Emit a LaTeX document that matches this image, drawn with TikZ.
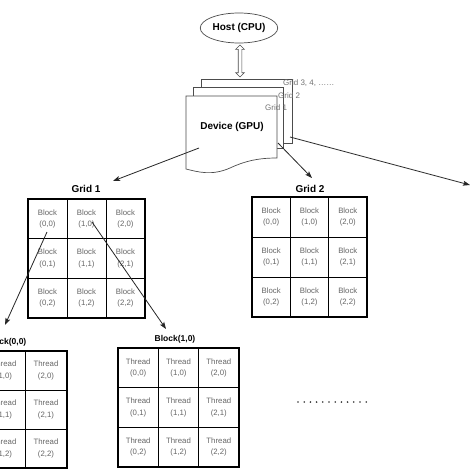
\documentclass[tikz,border=0pt]{standalone}
\usepackage{fontspec}
\setmainfont{Liberation Sans}
\usetikzlibrary{arrows.meta,shapes.geometric,shapes.arrows}
\begin{document}
\begin{tikzpicture}[x=1pt,y=-1pt,
  cell/.style={draw=black, line width=0.7pt, inner sep=0pt, align=center, text=black!60, font=\fontsize{7.8}{11.5}\selectfont},
  gtitle/.style={font=\bfseries\fontsize{10}{12}\selectfont, inner sep=1pt},
  btitle/.style={font=\bfseries\fontsize{8.5}{10}\selectfont, inner sep=1pt},
  outer/.style={draw=black, line width=2.2pt},
  conn/.style={line width=0.8pt, draw=black!85, -{Stealth[length=7pt,width=5pt,inset=1.5pt]}},
  page/.style={draw=black!70, line width=0.7pt, fill=white},
  glabel/.style={text=black!55, font=\fontsize{8}{9}\selectfont, anchor=west, inner sep=0pt}]
\useasboundingbox (0,0) rectangle (474,474);
\clip (0,0) rectangle (474,474);
\fill[white] (0,0) rectangle (474,474);

% Host
\node[ellipse, draw=black!70, line width=0.7pt, minimum width=70pt, minimum height=30pt, gtitle] (host) at (239,28) {Host (CPU)};
\node[draw=black!70, fill=white, double arrow, rotate=90, minimum height=32pt, inner sep=1.5pt, double arrow head extend=2.5pt, line width=0.6pt] (io) at (240,61) {};

% Device pages
\draw[page] (201,79) rectangle (292,143);
\draw[page] (193,87) rectangle (283,148);
\draw[page] (186,96) -- (277,96) -- (277,158)
  .. controls (258,158) and (245,161) .. (230,168)
  .. controls (212,176) and (198,172) .. (186,169) -- cycle;
\node[gtitle] (dev) at (232,127) {Device (GPU)};
\node[glabel] (l3) at (283,83) {Grid 3, 4, ……};
\node[glabel] (l2) at (278,96) {Grid 2};
\node[glabel] (l1) at (265,108) {Grid 1};

% Grid 1
\node[gtitle] (g1t) at (86,189) {Grid 1};
\foreach \i in {0,1,2}{\foreach \j in {0,1,2}{
  \node[cell, minimum width=39pt, minimum height=39.67pt] (ga-\i-\j) at ({28+39*(\i+0.5)},{199+39.67*(\j+0.5)}) {Block\\(\i,\j)};}}
\draw[outer] (28,199) rectangle (145,318);

% Grid 2
\node[gtitle] (g2t) at (310,189) {Grid 2};
\foreach \i in {0,1,2}{\foreach \j in {0,1,2}{
  \node[cell, minimum width=38.33pt, minimum height=40pt] (gb-\i-\j) at ({252+38.33*(\i+0.5)},{197+40*(\j+0.5)}) {Block\\(\i,\j)};}}
\draw[outer] (252,197) rectangle (367,317);

% Block(0,0)
\node[btitle] (b0t) at (6,342) {Block(0,0)};
\foreach \i in {0,1,2}{\foreach \j in {0,1,2}{
  \node[cell, minimum width=42pt, minimum height=39pt] (ba-\i-\j) at ({-59+42*(\i+0.5)},{351+39*(\j+0.5)}) {Thread\\(\i,\j)};}}
\draw[outer] (-59,351) rectangle (67,468);

% Block(1,0)
\node[btitle] (b1t) at (175,339) {Block(1,0)};
\foreach \i in {0,1,2}{\foreach \j in {0,1,2}{
  \node[cell, minimum width=40.33pt, minimum height=39.67pt] (bb-\i-\j) at ({118+40.33*(\i+0.5)},{348+39.67*(\j+0.5)}) {Thread\\(\i,\j)};}}
\draw[outer] (118,348) rectangle (239,467);

% connectors
\coordinate (d1) at (199,148);
\coordinate (d2) at (278,143);
\coordinate (d3) at (290,137);
\coordinate (t1) at (113,181);
\coordinate (t2) at (312,178);
\coordinate (t3) at (470,185);
\coordinate (s1) at (47,232);
\coordinate (s2) at (92,222);
\coordinate (u1) at (5,325);
\coordinate (u2) at (166,329);
\draw[conn] (d1) -- (t1);
\draw[conn] (d2) -- (t2);
\draw[conn] (d3) -- (t3);
\draw[conn] (s1) -- (u1);
\draw[conn] (s2) -- (u2);

% more grids
\foreach \k in {0,...,11} \fill[black!80] ({298+6.2*\k},402) circle (0.9pt);
\end{tikzpicture}
\end{document}
